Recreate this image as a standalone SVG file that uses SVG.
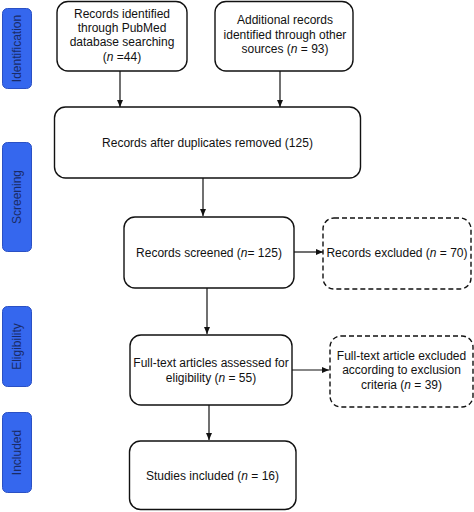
<svg xmlns="http://www.w3.org/2000/svg" width="474" height="512" viewBox="0 0 474 512">
<style>
.box{fill:#fff;stroke:#111;stroke-width:1.4}
.dash{fill:#fff;stroke:#111;stroke-width:1.4;stroke-dasharray:5,3}
.side{fill:#3567ee;stroke:#2a50c4;stroke-width:1}
.t{font-family:"Liberation Sans",Arial,sans-serif;font-size:12px;fill:#111;text-anchor:middle}
.st{font-family:"Liberation Sans",Arial,sans-serif;font-size:12px;fill:#1a2b66;text-anchor:middle}
.c{stroke:#111;stroke-width:1.2;fill:none;marker-end:url(#ah)}
</style>
<defs>
<marker id="ah" markerWidth="8" markerHeight="8" refX="7" refY="4" orient="auto" markerUnits="userSpaceOnUse">
<path d="M0,1 L7,4 L0,7 Z" fill="#111"/>
</marker>
</defs>
<rect width="474" height="512" fill="#fff"/>
<g id="side-identification">
<rect class="side" x="2.5" y="8.5" width="29" height="80" rx="5"/>
<text class="st" transform="translate(21,48.5) rotate(-90)">Identification</text>
</g>
<g id="side-screening">
<rect class="side" x="2.5" y="142.5" width="29" height="109" rx="5"/>
<text class="st" transform="translate(21,197) rotate(-90)">Screening</text>
</g>
<g id="side-eligibility">
<rect class="side" x="2.5" y="306.5" width="29" height="80" rx="5"/>
<text class="st" transform="translate(21,346.5) rotate(-90)">Eligibility</text>
</g>
<g id="side-included">
<rect class="side" x="2.5" y="412.5" width="29" height="80" rx="5"/>
<text class="st" transform="translate(21,452.5) rotate(-90)">Included</text>
</g>
<g id="connectors">
<line class="c" x1="120" y1="71" x2="120" y2="107"/>
<line class="c" x1="280" y1="71" x2="280" y2="107"/>
<line class="c" x1="203" y1="178" x2="203" y2="216"/>
<line class="c" x1="294" y1="252" x2="323" y2="252"/>
<line class="c" x1="207" y1="288" x2="207" y2="334"/>
<line class="c" x1="292" y1="370" x2="329" y2="370"/>
<line class="c" x1="209" y1="405" x2="209" y2="440"/>
</g>
<g id="n1">
<rect class="box" x="57" y="1.5" width="130" height="69.5" rx="11"/>
<text class="t" x="122" y="17.5">Records identified</text>
<text class="t" x="122" y="31.5">through PubMed</text>
<text class="t" x="122" y="46">database searching</text>
<text class="t" x="122" y="60.5">(<tspan font-style="italic">n</tspan> =44)</text>
</g>
<g id="n2">
<rect class="box" x="215" y="1.5" width="138" height="69.5" rx="11"/>
<text class="t" x="285" y="24">Additional records</text>
<text class="t" x="285" y="38.5">identified through other</text>
<text class="t" x="285" y="53">sources (<tspan font-style="italic">n</tspan> = 93)</text>
</g>
<g id="n3">
<rect class="box" x="54.5" y="107" width="306" height="71" rx="11"/>
<text class="t" x="207.5" y="147">Records after duplicates removed (125)</text>
</g>
<g id="n4">
<rect class="box" x="124" y="217" width="170" height="71" rx="11"/>
<text class="t" x="209" y="257">Records screened (<tspan font-style="italic">n</tspan>= 125)</text>
</g>
<g id="n5">
<rect class="dash" x="323" y="218" width="148" height="71" rx="11"/>
<text class="t" x="397" y="257">Records excluded (<tspan font-style="italic">n</tspan> = 70)</text>
</g>
<g id="n6">
<rect class="box" x="130" y="335" width="162" height="70" rx="11"/>
<text class="t" x="211" y="367">Full-text articles assessed for</text>
<text class="t" x="211" y="381.5">eligibility (<tspan font-style="italic">n</tspan> = 55)</text>
</g>
<g id="n7">
<rect class="dash" x="330" y="336" width="143" height="71" rx="11"/>
<text class="t" x="401.5" y="359.5">Full-text article excluded</text>
<text class="t" x="401.5" y="374">according to exclusion</text>
<text class="t" x="401.5" y="388.5">criteria (<tspan font-style="italic">n</tspan> = 39)</text>
</g>
<g id="n8">
<rect class="box" x="129.5" y="441" width="166.5" height="68.5" rx="11"/>
<text class="t" x="212.5" y="480">Studies included (<tspan font-style="italic">n</tspan> = 16)</text>
</g>
</svg>
